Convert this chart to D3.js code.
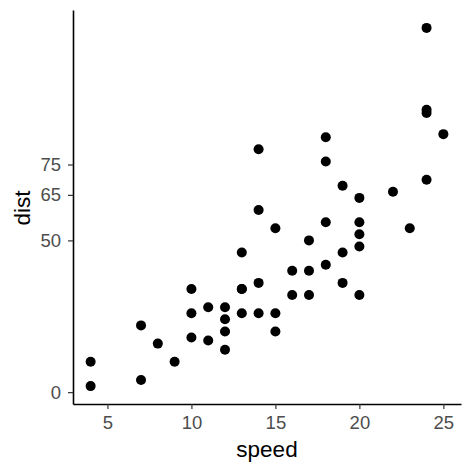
<!DOCTYPE html>
<html>
<head>
<meta charset="utf-8">
<script src="https://cdn.jsdelivr.net/npm/d3@7"></script>
<style>
  body { margin: 0; background: #fff; }
  text { font-family: "Liberation Sans", Arial, sans-serif; }
</style>
</head>
<body>
<svg id="viz" width="474" height="474"></svg>
<script>
// cars dataset
const speed = [4,4,7,7,8,9,10,10,10,11,11,12,12,12,12,13,13,13,13,14,14,14,14,15,15,15,16,16,17,17,17,18,18,18,18,19,19,19,20,20,20,20,20,22,23,24,24,24,24,25];
const dist  = [2,10,4,22,16,10,18,26,34,17,28,14,20,24,28,26,34,34,46,26,36,60,80,20,26,54,32,40,32,40,50,42,56,76,84,36,46,68,32,48,52,56,64,66,54,70,92,93,120,85];
const xTicks = [5, 10, 15, 20, 25];
const yTicks = [0, 50, 65, 75];

const svg = d3.select("#viz");
const margin = { left: 73, right: 13, top: 10, bottom: 70 };
const W = 474, H = 474;

const x = d3.scaleLinear().domain([2.95, 26.05]).range([margin.left, W - margin.right]);
const y = d3.scaleLinear().domain([-3.9, 125.9]).range([H - margin.bottom, margin.top]);

const xAxis = svg.append("g")
    .attr("transform", `translate(0,${H - margin.bottom})`)
    .call(d3.axisBottom(x).tickValues(xTicks).tickSize(5).tickPadding(7).tickSizeOuter(0));
const yAxis = svg.append("g")
    .attr("transform", `translate(${margin.left},0)`)
    .call(d3.axisLeft(y).tickValues(yTicks).tickSize(5).tickPadding(7).tickSizeOuter(0));

[xAxis, yAxis].forEach(a => {
    a.attr("font-size", 18.5).attr("font-family", "Liberation Sans, Arial, sans-serif");
    a.select(".domain").attr("stroke", "#000").attr("stroke-width", 1.6);
    a.selectAll(".tick line").attr("stroke", "#333").attr("stroke-width", 1.2);
    a.selectAll(".tick text").attr("fill", "#4d4d4d");
});

svg.append("g")
    .selectAll("circle")
    .data(speed.map((s, i) => [s, dist[i]]))
    .join("circle")
    .attr("cx", d => x(d[0]))
    .attr("cy", d => y(d[1]))
    .attr("r", 5)
    .attr("fill", "#000");

svg.append("text")
    .attr("x", (margin.left + W - margin.right) / 2)
    .attr("y", 456.5)
    .attr("text-anchor", "middle")
    .attr("font-size", 22.5)
    .text("speed");

svg.append("text")
    .attr("transform", `translate(30,208) rotate(-90)`)
    .attr("text-anchor", "middle")
    .attr("font-size", 22.5)
    .text("dist");
</script>
</body>
</html>
